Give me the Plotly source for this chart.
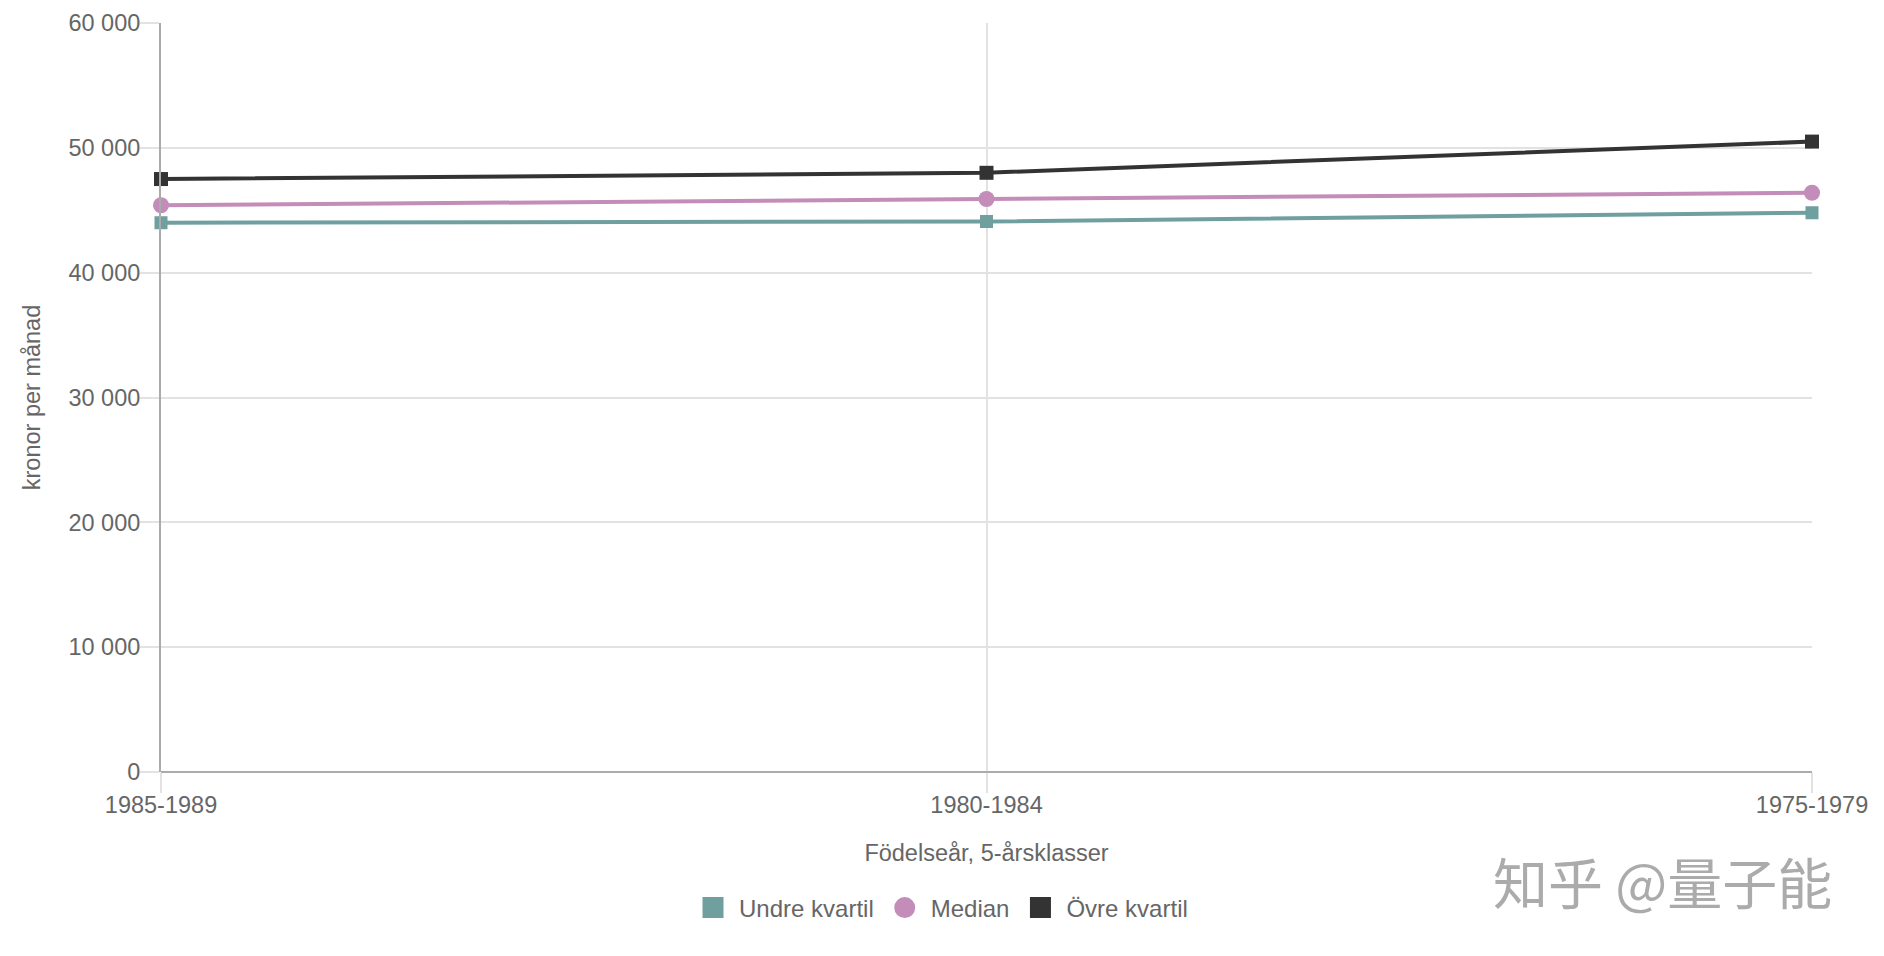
import plotly.graph_objects as go

categories = ["1985-1989", "1980-1984", "1975-1979"]
undre_kvartil = [44000, 44100, 44800]
median = [45400, 45900, 46400]
ovre_kvartil = [47500, 48000, 50500]
y_ticks = [0, 10000, 20000, 30000, 40000, 50000, 60000]

FONT = "Liberation Sans, Arial, sans-serif"
TXT = "#666666"
GRID = "#e2e2e2"
AXIS = "#ababab"

series = [
    ("Undre kvartil", undre_kvartil, "#6f9f9f", "square", 13),
    ("Median", median, "#c38cb9", "circle", 16),
    ("Övre kvartil", ovre_kvartil, "#333333", "square", 14),
]

fig = go.Figure()
for name, vals, color, sym, size in series:
    fig.add_trace(go.Scatter(
        x=categories, y=vals, mode="lines+markers", name=name,
        line=dict(color=color, width=4),
        marker=dict(color=color, symbol=sym, size=size, line=dict(width=0)),
        cliponaxis=False, showlegend=False,
    ))
for name, vals, color, sym, size in series:
    fig.add_trace(go.Scatter(
        x=[None], y=[None], mode="markers", name=name,
        marker=dict(color=color, symbol=sym, size=30,
                    line=dict(color=color, width=5)),
        showlegend=True,
    ))

fig.update_layout(
    width=1884, height=956,
    margin=dict(l=161, r=72, t=23, b=184, autoexpand=False),
    paper_bgcolor="white", plot_bgcolor="white",
    separators=". ",
    font=dict(family=FONT, size=23.5, color=TXT),
    legend=dict(
        orientation="h", x=0.3186, xanchor="left", y=-0.1816, yanchor="middle",
        font=dict(family=FONT, size=24, color=TXT),
        itemsizing="trace", itemwidth=42, traceorder="normal",
    ),
    annotations=[dict(
        text="知乎 @量子能", xref="paper", yref="paper",
        x=(1662 - 161) / 1651, y=(772 - 880) / 749,
        xanchor="center", yanchor="middle", showarrow=False,
        font=dict(family="Noto Sans CJK SC", size=55, color="#ababab"),
    )],
)
fig.update_xaxes(
    type="category", range=[0, 2],
    showgrid=True, gridcolor=GRID, gridwidth=1.5,
    showline=False, zeroline=False,
    ticks="outside", ticklen=20, tickcolor=GRID, tickwidth=1.5,
    ticklabelstandoff=-8,
    tickfont=dict(family=FONT, size=23.5, color=TXT),
    title=dict(text="Födelseår, 5-årsklasser", standoff=27,
               font=dict(family=FONT, size=23.5, color=TXT)),
)
fig.update_yaxes(
    range=[0, 60000], tickvals=y_ticks, tickformat=",d",
    showgrid=True, gridcolor=GRID, gridwidth=1.5,
    showline=True, linecolor=AXIS, linewidth=2,
    zeroline=True, zerolinecolor=AXIS, zerolinewidth=2,
    ticks="outside", ticklen=19, tickcolor=GRID, tickwidth=1.5,
    ticklabelstandoff=-5,
    tickfont=dict(family=FONT, size=23.5, color=TXT),
    title=dict(text="kronor per månad", standoff=21,
               font=dict(family=FONT, size=23.5, color=TXT)),
)

fig.write_html("out.html")
